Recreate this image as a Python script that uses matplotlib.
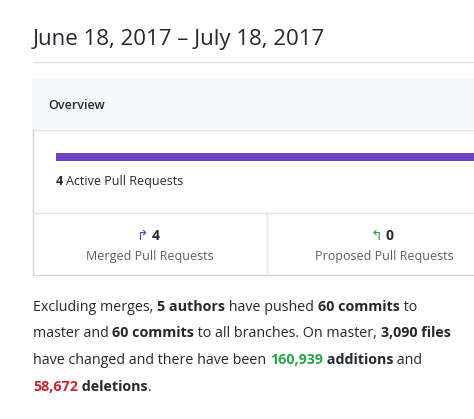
import matplotlib.pyplot as plt

title = 'June 18, 2017 \u2013 July 18, 2017'
merged_prs = 4
proposed_prs = 0
active_prs = merged_prs + proposed_prs
authors = 5
commits_master = 60
commits_all = 60
files_changed = '3,090'
additions = '160,939'
deletions = '58,672'

plt.rcParams['font.family'] = ['Open Sans', 'DejaVu Sans']

fig = plt.figure(figsize=(4.74, 4.19), dpi=100)
ax = fig.add_axes([0, 0, 1, 1])
ax.set_xlim(0, 474)
ax.set_ylim(419, 0)
ax.axis('off')

dark = '#24292e'
grey = '#586069'
border = '#d1d5da'

ax.text(33, 40, title, fontsize=16, color=dark, va='center')
ax.plot([33, 474], [62, 62], color='#e1e4e8', lw=1)

# box
ax.add_patch(plt.Rectangle((33, 79), 460, 196, fc='white', ec=border, lw=1))
ax.add_patch(plt.Rectangle((33.5, 79.5), 460, 50, fc='#f6f8fa', ec='none'))
ax.plot([33, 474], [130, 130], color='#e1e4e8', lw=1)
ax.text(48, 105, 'Overview', fontsize=9, weight='semibold', color=dark, va='center')

# active PR bar
frac = merged_prs / active_prs
ax.barh([157], [418 * frac], left=56, height=8, color='#6f42c1')
ax.text(56, 181, str(active_prs), fontsize=9, weight='bold', color=dark, va='center')
ax.text(66, 181, 'Active Pull Requests', fontsize=9, color=dark, va='center')

ax.plot([33, 474], [213, 213], color='#e1e4e8', lw=1)
ax.plot([267, 267], [213, 275], color='#e1e4e8', lw=1)

ax.text(148, 236, '\u21b1', fontsize=10, color='#6f42c1', ha='right', va='center', family='DejaVu Sans')
ax.text(152, 236, str(merged_prs), fontsize=10, weight='bold', color=dark, va='center')
ax.text(150, 256, 'Merged Pull Requests', fontsize=9, color=grey, ha='center', va='center')
ax.text(382, 236, '\u21b0', fontsize=10, color='#28a745', ha='right', va='center', family='DejaVu Sans')
ax.text(386, 236, str(proposed_prs), fontsize=10, weight='bold', color=dark, va='center')
ax.text(384, 256, 'Proposed Pull Requests', fontsize=9, color=grey, ha='center', va='center')

# paragraph
lines = [
    [('Excluding merges, ', 'normal', dark), ('%d authors' % authors, 'bold', dark),
     (' have pushed ', 'normal', dark), ('%d commits' % commits_master, 'bold', dark), (' to', 'normal', dark)],
    [('master and ', 'normal', dark), ('%d commits' % commits_all, 'bold', dark),
     (' to all branches. On master, ', 'normal', dark), ('%s files' % files_changed, 'bold', dark)],
    [('have changed and there have been ', 'normal', dark), (additions, 'bold', '#28a745'),
     (' additions', 'bold', dark), (' and', 'normal', dark)],
    [(deletions, 'bold', '#cb2431'), (' deletions', 'bold', dark), ('.', 'normal', dark)],
]
ys = [307, 333, 360, 387]
fig.canvas.draw()
r = fig.canvas.get_renderer()
inv = ax.transData.inverted()
for segs, y in zip(lines, ys):
    x = 33
    for s, w, c in segs:
        t = ax.text(x, y, s, fontsize=10.3, weight=w, color=c, va='center')
        bb = t.get_window_extent(renderer=r)
        x = inv.transform((bb.x1, bb.y0))[0]

fig.savefig('out.png', dpi=100)
